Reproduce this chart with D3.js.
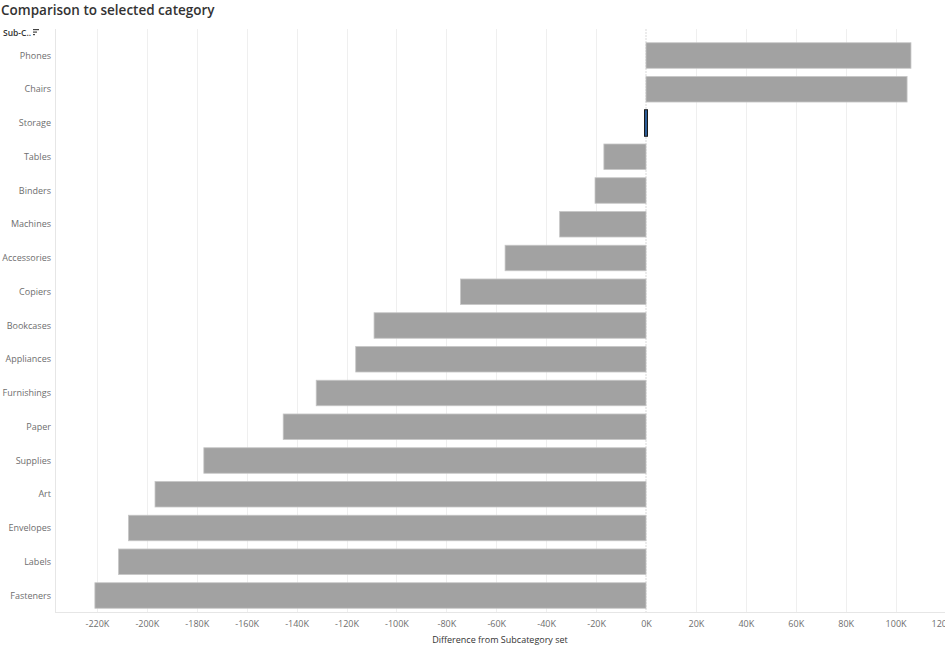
<!DOCTYPE html>
<html>
<head>
<meta charset="utf-8">
<script src="https://cdn.jsdelivr.net/npm/d3@7"></script>
<style>
  body { margin: 0; background: #fff; }
  svg { display: block; font-family: "Open Sans", "Noto Sans", sans-serif; }
</style>
</head>
<body>
<div id="chart"></div>
<script>
// datos: diferencia de ventas respecto a la subcategoría seleccionada (Storage)
const categories = ["Phones", "Chairs", "Storage", "Tables", "Binders", "Machines", "Accessories",
  "Copiers", "Bookcases", "Appliances", "Furnishings", "Paper", "Supplies", "Art",
  "Envelopes", "Labels", "Fasteners"];
const differences = [106163, 104605, 0, -16878, -20431, -34605, -56464, -74316, -108964,
  -116312, -132139, -145365, -177170, -196725, -207368, -211358, -220820];
const selected = "Storage";
const tickValues = [-220000, -200000, -180000, -160000, -140000, -120000, -100000, -80000,
  -60000, -40000, -20000, 0, 20000, 40000, 60000, 80000, 100000, 120000];

const data = categories.map((c, i) => ({ cat: c, value: differences[i] }));

const W = 945, H = 646;
const pane = { left: 55, right: 945, top: 39, bottom: 612 };

const svg = d3.select("#chart").append("svg")
  .attr("width", W).attr("height", H);

// título
svg.append("text")
  .attr("x", 1).attr("y", 15)
  .attr("font-size", 13.5).attr("font-weight", 600).attr("fill", "#333")
  .text("Comparison to selected category");

// cabecera de la columna
svg.append("text")
  .attr("x", 3).attr("y", 36)
  .attr("font-size", 8.5).attr("font-weight", 600).attr("fill", "#333")
  .text("Sub-C..");
const icon = svg.append("g").attr("transform", "translate(33,29)").attr("fill", "#444");
icon.append("rect").attr("x", 0).attr("y", 0).attr("width", 6).attr("height", 1.2);
icon.append("rect").attr("x", 0).attr("y", 2.5).attr("width", 4).attr("height", 1.2);
icon.append("rect").attr("x", 0).attr("y", 5).attr("width", 2).attr("height", 1.2);

// escalas
const x = d3.scaleLinear()
  .domain([-236800, 119800])
  .range([pane.left, pane.right]);

const y = d3.scaleBand()
  .domain(categories)
  .range([pane.top, pane.bottom])
  .paddingInner(0.244)
  .paddingOuter(0.111);

// líneas de cuadrícula
svg.append("g")
  .selectAll("line")
  .data(tickValues.filter(d => d !== 0))
  .enter().append("line")
  .attr("x1", d => Math.round(x(d)) + 0.5).attr("x2", d => Math.round(x(d)) + 0.5)
  .attr("y1", pane.top - 10).attr("y2", pane.bottom)
  .attr("stroke", "#efefef").attr("stroke-width", 1);

// borde izquierdo del panel y línea inferior
svg.append("line")
  .attr("x1", pane.left + 0.5).attr("x2", pane.left + 0.5)
  .attr("y1", pane.top - 10).attr("y2", pane.bottom)
  .attr("stroke", "#e6e6e6");
svg.append("line")
  .attr("x1", pane.left).attr("x2", pane.right)
  .attr("y1", pane.bottom + 0.5).attr("y2", pane.bottom + 0.5)
  .attr("stroke", "#e6e6e6");

// línea de cero
svg.append("line")
  .attr("x1", x(0)).attr("x2", x(0))
  .attr("y1", pane.top - 10).attr("y2", pane.bottom)
  .attr("stroke", "#d9d9d9").attr("stroke-dasharray", "2,1");

// barras
svg.selectAll(".bar")
  .data(data.filter(d => d.cat !== selected))
  .enter().append("rect")
  .attr("class", "bar")
  .attr("x", d => x(Math.min(0, d.value)))
  .attr("y", d => y(d.cat))
  .attr("width", d => Math.abs(x(d.value) - x(0)))
  .attr("height", y.bandwidth())
  .attr("fill", "#a2a2a2")
  .attr("stroke", "#c6c6c6").attr("stroke-width", 0.8);

// barra seleccionada (valor cero, resaltada)
svg.selectAll(".sel")
  .data(data.filter(d => d.cat === selected))
  .enter().append("rect")
  .attr("class", "sel")
  .attr("x", d => x(d.value) - 1.5)
  .attr("y", d => y(d.cat) - 0.5)
  .attr("width", 3)
  .attr("height", y.bandwidth() + 1)
  .attr("fill", "#2d5c95")
  .attr("stroke", "#1a1a1a").attr("stroke-width", 1);

// etiquetas de categorías
svg.append("g")
  .selectAll("text")
  .data(categories)
  .enter().append("text")
  .attr("x", 51)
  .attr("y", d => y(d) + y.bandwidth() / 2)
  .attr("dy", "0.35em")
  .attr("text-anchor", "end")
  .attr("font-size", 9).attr("fill", "#6e6e6e")
  .text(d => d);

// eje X
const xAxis = svg.append("g")
  .attr("transform", `translate(0,${pane.bottom})`)
  .call(d3.axisBottom(x)
    .tickValues(tickValues)
    .tickSize(0)
    .tickPadding(9)
    .tickFormat(d => d3.format(",")(d / 1000).replace("−", "-") + "K"));
xAxis.select(".domain").remove();
xAxis.selectAll("text")
  .attr("font-size", 9).attr("fill", "#6e6e6e")
  .attr("font-family", "\"Open Sans\", \"Noto Sans\", sans-serif");
// la última etiqueta queda pegada al borde, como en el original
xAxis.selectAll(".tick").filter(d => d === 120000).select("text").attr("dx", -4);

// título del eje
svg.append("text")
  .attr("x", (pane.left + pane.right) / 2)
  .attr("y", 643)
  .attr("text-anchor", "middle")
  .attr("font-size", 9).attr("fill", "#333")
  .text("Difference from Subcategory set");
</script>
</body>
</html>
